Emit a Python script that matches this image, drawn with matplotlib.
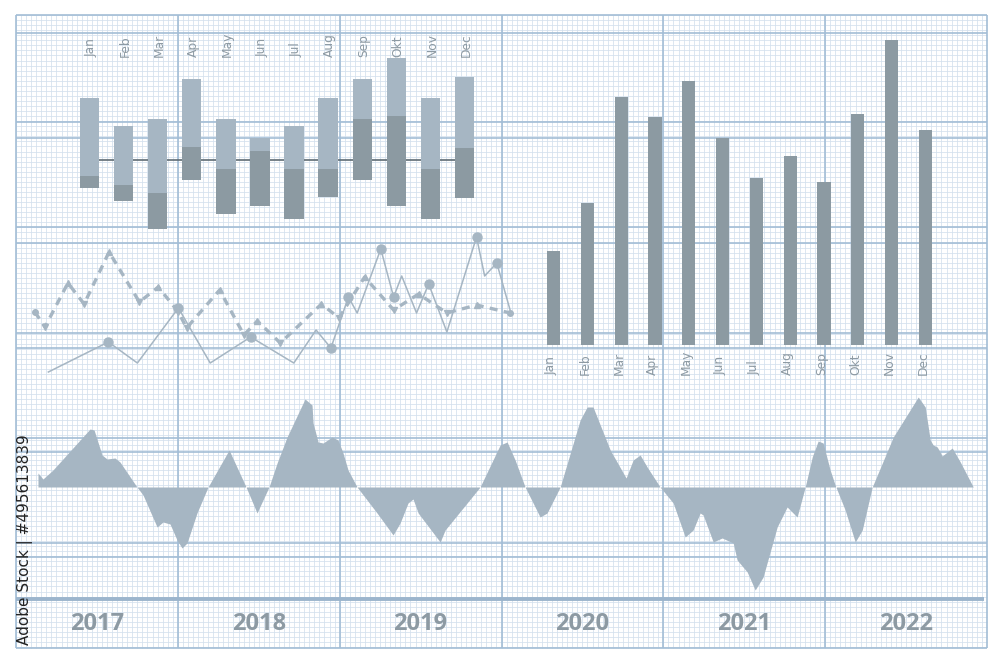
import numpy as np
import matplotlib.pyplot as plt

W, H = 1000, 667

months = ['Jan', 'Feb', 'Mar', 'Apr', 'May', 'Jun', 'Jul', 'Aug', 'Sep', 'Okt', 'Nov', 'Dec']
years = ['2017', '2018', '2019', '2020', '2021', '2022']

# floating bars, top left (top of light part, light/dark split, bottom)
float_top = [62, 34, 41, 81, 41, 22, 34, 62, 81, 102, 62, 83]
float_mid = [-16, -25, -33, 13, -9, 9, -9, -9, 41, 44, -9, 12]
float_low = [-28, -41, -69, -20, -54, -46, -59, -37, -20, -46, -59, -38]

# bar chart, top right
bar_vals = [94, 142, 248, 228, 264, 207, 167, 189, 163, 231, 305, 215]

# line chart, middle left (x in months from Jan 2017)
solid_x = [2.4, 6.85, 9.0, 12.04, 14.4, 17.4, 20.6, 22.25, 23.35, 24.65, 25.3, 27.05,
           28.0, 28.6, 29.7, 30.6, 31.95, 34.15, 34.75, 35.65, 36.7]
solid_y = [8, 38, 17, 72, 17, 43, 17, 50, 32, 83, 67, 131, 83, 104, 67, 96, 48, 143, 104, 117, 67]
solid_marked = [1, 3, 5, 8, 9, 11, 12, 15, 17, 19]

dash_x = [1.4, 2.15, 3.85, 5.05, 6.9, 9.15, 10.55, 12.04, 12.65, 15.1, 16.9, 17.9, 19.6,
          22.65, 23.95, 25.85, 28.0, 29.85, 31.95, 34.15, 36.65]
dash_y = [68, 53, 97, 76, 128, 78, 93, 68, 52, 90, 45, 59, 37, 76, 62, 103, 70, 86, 67, 75, 67]

# area chart, bottom (x in months from Jan 2017)
wave_x = [1.63, 2.0, 2.74, 5.49, 5.79, 6.38, 6.75, 7.34, 7.71, 8.97, 9.42, 10.46, 10.9, 11.42,
          11.94, 12.31, 12.68, 13.42, 14.24, 15.8, 17.06, 17.87, 18.76, 19.36, 20.1, 21.43,
          21.95, 22.03, 22.4, 22.77, 23.44, 23.88, 24.25, 24.62, 25.29, 26.77, 27.96, 28.48,
          29.07, 29.44, 29.82, 31.45, 31.82, 33.45, 34.41, 35.9, 36.42, 37.01, 37.75, 38.86,
          39.38, 40.35, 41.83, 42.35, 42.79, 44.06, 45.24, 45.76, 46.28, 46.8, 47.76, 48.73,
          49.62, 50.21, 50.73, 50.95, 51.7, 52.36, 53.18, 53.47, 54.22, 54.81, 55.4, 56.44,
          57.18, 57.92, 58.52, 59.04, 59.48, 59.85, 60.37, 60.74, 61.48, 62.23, 62.75, 63.49,
          65.05, 66.9, 67.42, 67.79, 68.01, 68.31, 68.68, 69.42, 70.02, 70.98]
wave_y = [14, 8, 17, 58, 57, 32, 28, 29, 25, 0, -8, -40, -35, -37,
          -53, -61, -56, -26, 0, 37, 0, -26, 0, 24, 50, 88,
          82, 64, 45, 44, 50, 47, 34, 17, 0, -26, -48, -36,
          -16, -12, -26, -55, -43, -16, 0, 42, 45, 27, 0, -30,
          -26, 0, 67, 80, 80, 37, 9, 27, 32, 20, 0, -16,
          -50, -43, -26, -28, -55, -51, -56, -73, -85, -103, -90, -40,
          -20, -30, 0, 30, 46, 44, 17, 2, -23, -55, -43, 0,
          50, 90, 80, 47, 42, 40, 31, 39, 25, 0]

light = '#a6b6c3'
dark = '#8c9aa2'
text_grey = '#8d9aa3'
minor_c = '#d3e0ee'
major_c = '#a3bdd6'

fig = plt.figure(figsize=(W / 100, H / 100), dpi=100)


def px_axes(x0, y0, x1, y1):
    ax = fig.add_axes([x0 / W, 1 - y1 / H, (x1 - x0) / W, (y1 - y0) / H])
    ax.axis('off')
    ax.patch.set_alpha(0)
    return ax


# graph paper
bg = fig.add_axes([0, 0, 1, 1])
bg.set_xlim(0, W)
bg.set_ylim(H, 0)
bg.axis('off')
left, right, top, bottom = 16, 987, 15, 648
step = (right - left) / 6 / 32
bg.vlines(np.arange(left, right, step), top, bottom, color=minor_c, lw=0.55, zorder=0)
bg.hlines(np.arange(top, bottom, step), left, right, color=minor_c, lw=0.55, zorder=0)
bg.vlines(np.linspace(left, right, 7), top, bottom, color=major_c, lw=1.2, zorder=1)
bg.hlines([15, 33, 122, 138, 227, 243, 333, 348, 438, 452, 543, 557, 648], left, right,
          color=major_c, lw=1.2, zorder=1)
bg.hlines(599, left, 984, color='#9cb5cd', lw=2.8, zorder=1)

col = (right - left) / 6
for i, yr in enumerate(years):
    bg.text(left + (i + 0.5) * col, 624, yr, ha='center', va='center', fontsize=17,
            fontweight='bold', family='Open Sans', color=text_grey)

bg.text(25, 540, 'Adobe Stock | #495613839', rotation=90, ha='center', va='center',
        fontsize=11, color='#222222')

# floating bars
ax1 = px_axes(89.5 - 17.05, 30, 464.5 + 17.05, 240)
ax1.set_xlim(-0.5, 11.5)
ax1.set_ylim(-80, 130)
xi = np.arange(12)
ax1.hlines(0, 0, 11, color='#5f6c74', lw=1.2, zorder=1)
top_a, mid_a, low_a = np.array(float_top), np.array(float_mid), np.array(float_low)
ax1.bar(xi, top_a - mid_a, bottom=mid_a, width=0.57, color=light, zorder=2)
ax1.bar(xi, mid_a - low_a, bottom=low_a, width=0.57, color=dark, zorder=2)
for i, m in enumerate(months):
    ax1.text(i + 0.05, 103, m, rotation=90, ha='center', va='bottom', fontsize=8.8,
             color=text_grey)

# right bars
ax2 = px_axes(553.5 - 16.9, 30, 925.5 + 16.9, 345)
ax2.set_xlim(-0.5, 11.5)
ax2.set_ylim(0, 315)
ax2.bar(xi, bar_vals, width=0.39, color=dark)
for i, m in enumerate(months):
    ax2.text(i - 0.07, -30, m, rotation=90, ha='center', va='bottom', fontsize=8.8,
             color=text_grey, clip_on=False)

# lines
ax3 = px_axes(left, 225, right, 385)
ax3.set_xlim(0, 72)
ax3.set_ylim(-5, 155)
ax3.plot(dash_x, dash_y, color=light, lw=2.4, dashes=(2.4, 1.9), zorder=2)
for i in range(len(dash_x)):
    if i == 0 or i == len(dash_x) - 1:
        mk = 'o'
    elif dash_y[i] > dash_y[i - 1] and dash_y[i] > dash_y[i + 1]:
        mk = '^'
    else:
        mk = 'v'
    ax3.plot(dash_x[i], dash_y[i], marker=mk, ms=5 if mk != 'o' else 4, color=light,
             zorder=3)
ax3.plot(solid_x, solid_y, color=light, lw=1.1, zorder=4)
ax3.plot(np.array(solid_x)[solid_marked], np.array(solid_y)[solid_marked], 'o', ms=6.5,
         color=light, zorder=5)

# area
ax4 = px_axes(left, 380, right, 610)
ax4.set_xlim(0, 72)
ax4.set_ylim(-123, 107)
ax4.fill_between(wave_x, wave_y, 0, color=light, lw=0)

fig.savefig('out.png', dpi=100)
